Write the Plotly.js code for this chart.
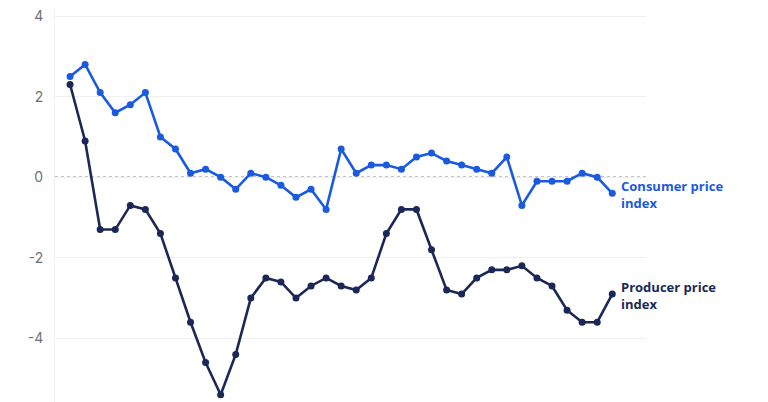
<!DOCTYPE html>
<html>
<head>
<meta charset="utf-8">
<script src="https://cdn.plot.ly/plotly-3.0.1.min.js"></script>
<style>
  html, body { margin: 0; padding: 0; background: #fff; }
  #chart { width: 768px; height: 402px; }
</style>
</head>
<body>
<div id="chart"></div>
<script>
// monthly readings, year-on-year %
let cpi = [2.5, 2.8, 2.1, 1.6, 1.8, 2.1, 1.0, 0.7, 0.1, 0.2, 0.0, -0.3, 0.1, 0.0, -0.2, -0.5, -0.3, -0.8,
  0.7, 0.1, 0.3, 0.3, 0.2, 0.5, 0.6, 0.4, 0.3, 0.2, 0.1, 0.5, -0.7, -0.1, -0.1, -0.1, 0.1, 0.0, -0.4]
let ppi = [2.3, 0.9, -1.3, -1.3, -0.7, -0.8, -1.4, -2.5, -3.6, -4.6, -5.4, -4.4, -3.0, -2.5, -2.6, -3.0, -2.7, -2.5,
  -2.7, -2.8, -2.5, -1.4, -0.8, -0.8, -1.8, -2.8, -2.9, -2.5, -2.3, -2.3, -2.2, -2.5, -2.7, -3.3, -3.6, -3.6, -2.9]
let months = []
for (let i = 0; i < cpi.length; i++) {
  months.push(i)
}
let tickVals = [4, 2, 0, -2, -4]
let tickText = ['4', '2', '0', '-2', '-4']
let cpiName = 'Consumer price<br>index'
let ppiName = 'Producer price<br>index'

let blue = '#1a5ae0'
let navy = '#1b2857'

var traceCpi = {
  x: months, y: cpi,
  mode: 'lines+markers',
  type: 'scatter',
  line: { color: blue, width: 2.6 },
  marker: { color: blue, size: 7 },
  cliponaxis: false,
  hoverinfo: 'skip'
};

var tracePpi = {
  x: months, y: ppi,
  mode: 'lines+markers',
  type: 'scatter',
  line: { color: navy, width: 2.6 },
  marker: { color: navy, size: 7 },
  cliponaxis: false,
  hoverinfo: 'skip'
};

let last = months.length - 1

var layout = {
  width: 768,
  height: 402,
  margin: { l: 55, r: 122, t: 10, b: 0 },
  paper_bgcolor: '#fff',
  plot_bgcolor: '#fff',
  showlegend: false,
  font: { family: 'Inter, "Noto Sans", sans-serif' },
  xaxis: {
    range: [-1, 38.24],
    showgrid: false,
    zeroline: false,
    showticklabels: false,
    showline: false
  },
  yaxis: {
    range: [-5.58, 4.15],
    tickvals: tickVals,
    ticktext: tickText,
    showgrid: true,
    gridcolor: '#efefef',
    gridwidth: 1,
    zeroline: false,
    showline: true,
    linecolor: '#f0f0f0',
    linewidth: 1,
    ticks: 'outside',
    ticklen: 8,
    tickcolor: 'rgba(0,0,0,0)',
    tickfont: { size: 14, color: '#707070' }
  },
  shapes: [{
    type: 'line', xref: 'paper', x0: 0, x1: 1, yref: 'y', y0: 0, y1: 0,
    line: { color: '#8a8a8a', width: 1.2, dash: 'dot' },
    layer: 'below'
  }],
  annotations: [
    {
      x: months[last], y: cpi[last], text: '<b>' + cpiName + '</b>',
      xanchor: 'left', yanchor: 'middle', align: 'left', showarrow: false,
      xshift: 7, yshift: -1,
      font: { family: '"Open Sans", sans-serif', size: 13, color: blue }
    },
    {
      x: months[last], y: ppi[last], text: '<b>' + ppiName + '</b>',
      xanchor: 'left', yanchor: 'middle', align: 'left', showarrow: false,
      xshift: 7, yshift: -1,
      font: { family: '"Open Sans", sans-serif', size: 13, color: navy }
    }
  ]
};

Plotly.newPlot('chart', [tracePpi, traceCpi], layout, { displayModeBar: false, staticPlot: true });
</script>
</body>
</html>
